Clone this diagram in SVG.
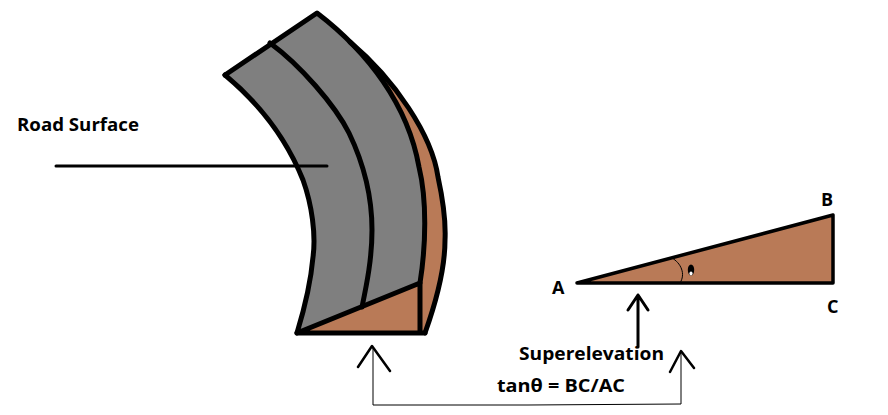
<svg xmlns="http://www.w3.org/2000/svg" width="888" height="415" viewBox="0 0 888 415">
<style>
.t{font-family:"Open Sans","Liberation Sans",sans-serif;font-weight:700;font-size:18px;fill:#000}
.k{fill:none;stroke:#000;stroke-linecap:round;stroke-linejoin:round}
.b{fill:#b97a57}
.g{fill:#7f7f7f}
</style>
<rect width="888" height="415" fill="#fff"/>
<g id="road">
<path class="b" d="M350 42C395 80 432 135 438 177C443 200 446 220 445 240C445 270 435 305 425 333L300 333Z"/>
<path class="g" d="M225 75L317 13C368 52 408 105 419 167C427 200 426 245 420 283L297 333C304 310 311 280 313 257C316 235 312 205 303 180C285 135 255 100 225 75Z"/>
<path class="b" d="M298 333L420 284V333Z"/>
<path class="k" stroke-width="5" d="M225 75L317 13C368 52 408 105 419 167C427 200 426 245 420 283"/>
<path class="k" stroke-width="5" d="M225 75C255 100 285 135 303 180C312 205 316 235 313 257C311 280 304 310 297 333"/>
<path class="k" stroke-width="5" d="M270 43C300 65 335 105 349 133C362 160 372 195 372 230C372 258 367 283 362 307"/>
<path class="k" stroke-width="5" d="M350 42C395 80 432 135 438 177C443 200 446 220 445 240C445 270 435 305 425 333"/>
<path class="k" stroke-width="5" d="M297 333L420 283V333M297 333H425"/>
</g>
<g id="triangle">
<path class="b" d="M577 283L833 215V283Z"/>
<path class="k" stroke-width="3.5" d="M577 283L833 215V283Z"/>
<path class="k" stroke-width="1" d="M672 258C681 263 686 274 680 283"/>
<ellipse cx="691" cy="270" rx="3.2" ry="5.5" fill="#000"/>
<ellipse cx="691" cy="273.5" rx="1.6" ry="2" fill="#fff"/>
</g>
<g id="connectors">
<path class="k" stroke-width="3" d="M56 166H327"/>
<path class="k" stroke-width="3" d="M638 347V295M628 310L638 295L648 310"/>
<path class="k" stroke-width="1" d="M373 348V405L528 405L681 404V352"/>
<path class="k" stroke-width="2.5" d="M358 367L372 346L390 371M670 372L681 351L694 368"/>
</g>
<g id="labels">
<text class="t" x="17" y="131" textLength="122" lengthAdjust="spacingAndGlyphs">Road Surface</text>
<text class="t" x="552" y="294">A</text>
<text class="t" x="821" y="206">B</text>
<text class="t" x="827" y="313">C</text>
<text class="t" x="519" y="360" textLength="145" lengthAdjust="spacingAndGlyphs">Superelevation</text>
<text class="t" x="497" y="392" textLength="128" lengthAdjust="spacingAndGlyphs">tanθ = BC/AC</text>
</g>
</svg>
